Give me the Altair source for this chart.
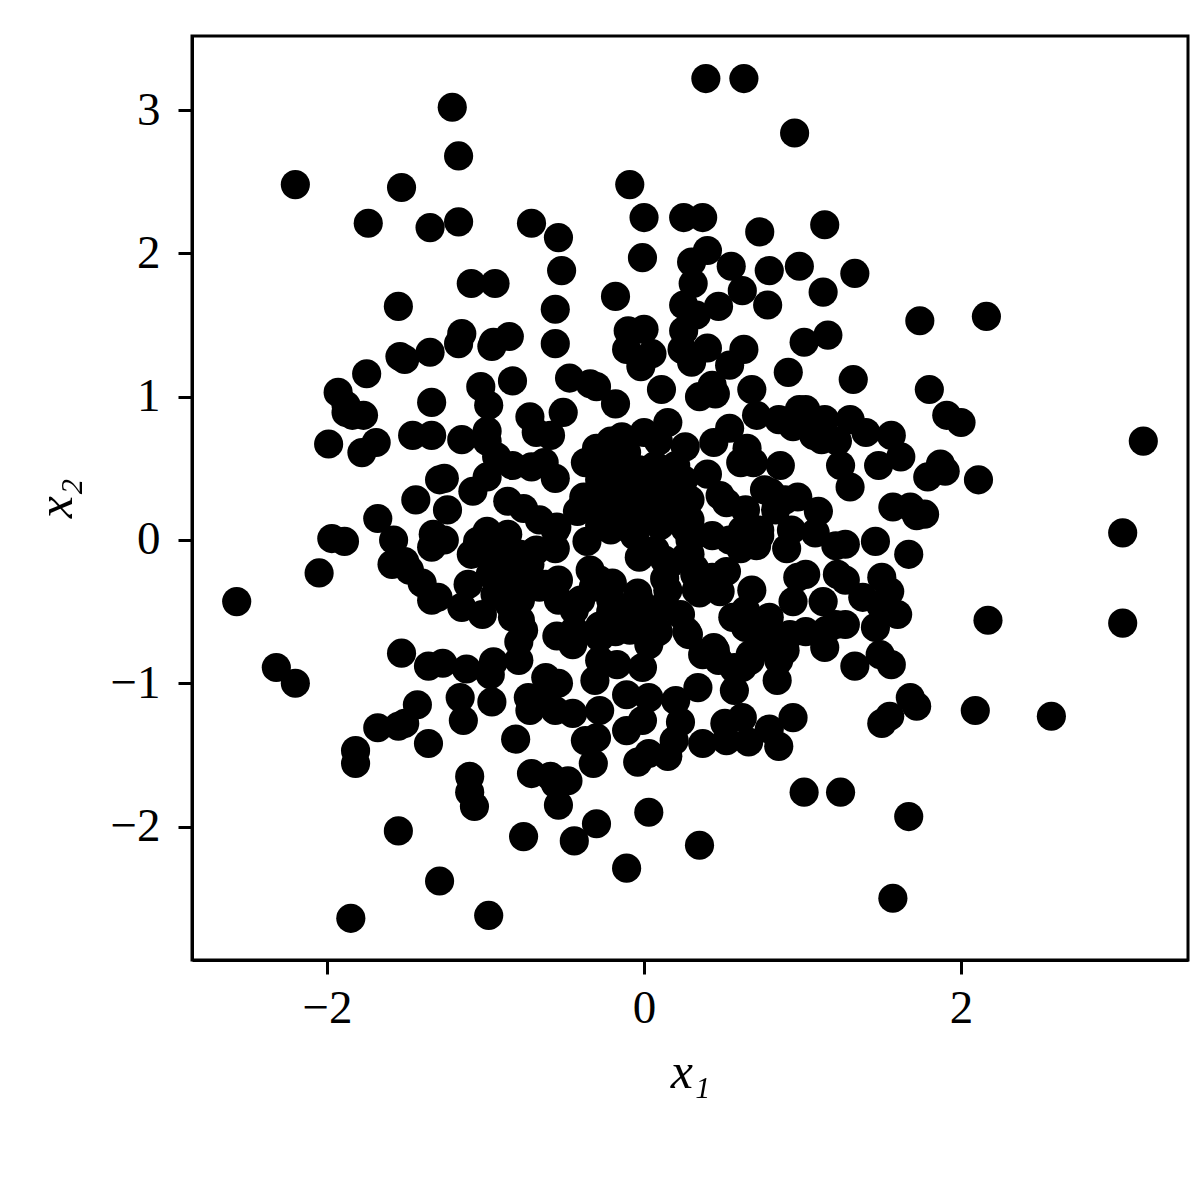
import altair as alt
import pandas as pd

x1 = [0.39,0.63,0.95,-1.21,-1.17,-2.20,-1.53,-1.74,-1.35,-1.17,-0.09,0,-0.71,-0.54,0.25,0.37,0.73,1.14,-0.01,0.30,0.40,0.55,0.79,0.98,1.33,-0.52,-1.09,-0.94,0.31,-0.18,0.62,1.13,-1.55,-0.56,0.25,0.47,0.78,0.33,1.74,2.16,
-0.10,0,0.25,-1.15,-1.17,-0.95,-0.85,-0.96,-0.56,1.01,1.16,-0.11,0.05,0.24,0.40,0.63,-1.35,-1.54,-1.51,-0.02,0.30,0.54,-1.75,-0.47,0.91,1.32,-1.03,-0.83,-0.30,-0.34,0.11,0.43,0.68,0.35,0.45,1.80,-1.93,-1.88,-1.34,-0.98,-0.18,-1.88,-1.84,-1.77,-0.51,-0.72,0.71,0.85,0.98,1.02,0.94,1.14,1.30,1.91,2.00,0.15,1.40,1.56,0.54,1.07,1.22,1.12,
-1.46,-1.34,-1.69,-1.99,-1.78,-1.15,-0.99,-0.99,-0.68,-0.59,0,-0.14,-0.21,-0.30,0.09,0.26,0.44,0.65,1.62,1.48,0.61,0.69,1.24,0.86,-0.93,-0.83,-0.63,-0.71,-0.56,-0.99,-1.29,-1.26,-1.08,-0.28,-0.12,-0.37,-0.28,1.87,1.90,1.79,2.11,3.15,0.40,1.30,0.76,
-0.03,0.07,0.13,-0.03,0.16,-0.15,0.04,0.25,-0.11,0.10,0.29,-0.28,-0.12,0.01,0.10,-0.21,-0.06,0.26,
-1.44,-0.86,-0.38,-0.39,0.48,0.52,0.97,0.89,0.80,1.57,1.68,-1.24,-0.76,0.29,-0.18,-0.09,0.23,1.10,1.72,1.77,-1.68,-0.66,
3.02,-1.97,-1.89,-1.58,-1.33,-1.26,-1.34,-0.99,-0.86,-1.05,-0.56,-0.56,-0.68,0.73,0.62,0.93,0.43,0.54,0.71,0.61,1.08,1.46,1.27,1.21,0.90,1.67,0.29,-0.03,0.07,0.13,0.26,-0.36,-0.55,-0.42,
-1.59,-1.51,-1.48,-1.09,-2.05,-0.94,-0.85,-0.34,-0.28,-1.40,-1.11,-0.62,0.13,0.52,0.43,0.33,0.68,0.97,1.02,1.22,1.27,1.50,1.55,1.38,
-2.57,-1.34,-1.30,-0.94,-0.78,-0.54,-0.40,-0.21,-0.03,0.13,0.94,1.13,1.49,1.60,-1.15,-1.02,-0.78,3.02,2.17,0.79,0.56,0.64,1.46,1.27,1.15,1.02,-0.28,-0.09,0.09,-0.55,-0.45,-0.79,0.28,0.03,1.14,-1.53,0.83,0.73,0.89,0.44,0.37,1.49,1.56,1.33,
-2.32,-1.36,-1.27,-1.12,-0.95,-0.79,-0.28,-0.17,-0.01,0.62,0.47,0.85,-0.97,-0.62,-0.54,-0.31,0.84,-2.20,0.34,0.57,-0.11,0.03,0.20,-0.73,-0.62,-1.16,-0.96,1.68,1.72,-1.43,2.09,2.57,-0.72,-0.56,-0.45,-0.28,0.94,0.62,0.23,-0.01,-0.11,0.51,1.55,1.50,-1.14,-1.51,-1.55,-1.68,0.79,-0.81,-0.30,-0.37,-1.36,0.52,0.66,0.37,0.19,0.85,-1.82,-1.82,0.03,-0.04,0.15,-0.32,-1.10,-0.71,-0.59,-0.48,-0.56,1.01,1.24,-1.10,-1.07,-0.54,0.03,1.67,-0.30,-1.55,-0.76,-0.44,0.35,-0.11,-1.29,1.57,-1.85,-0.98,
-0.85,-0.88,-0.83,-0.76,-0.54,-0.66,-0.20,-0.04,0.15,-0.32,0.35,-0.15,0.02,0.27,-0.69,-0.93,-1.07,-0.28,0.85,0.57,0.77,0.67,0.32,0.06,
-0.25,0.20,-0.21,0.07,0.23,-0.12,-0.28,
-0.91,-0.78,-0.97,-0.72,-0.75,-0.85,
-0.44,-0.21,-0.03,0.23,0.04,-0.18,-0.44,0.16,0.32,
0.64,0.83,0.73,
0.79,0.92,0.73,0.67,1.21,0.45,0.57,
0.29,0.48,0.64]
x2 = [3.22,3.22,2.84,3.02,2.68,2.48,2.46,2.21,2.18,2.22,2.48,2.25,2.21,2.11,2.25,2.25,2.15,2.20,1.97,1.94,2.02,1.91,1.88,1.91,1.86,1.88,1.79,1.79,1.79,1.70,1.74,1.73,1.63,1.61,1.64,1.63,1.64,1.57,1.53,1.56,
1.46,1.47,1.46,1.44,1.37,1.38,1.42,1.35,1.37,1.38,1.43,1.33,1.30,1.33,1.34,1.33,1.31,1.28,1.26,1.21,1.24,1.22,1.16,1.13,1.17,1.12,1.07,1.11,1.07,1.09,1.05,1.08,1.05,1.00,1.02,1.05,1.03,0.94,0.96,0.94,0.95,0.89,0.87,0.87,0.89,0.86,0.87,0.84,0.91,0.91,0.79,0.84,0.84,0.87,0.82,0.82,0.75,0.73,0.78,0.73,0.69,0.70,
0.73,0.73,0.68,0.67,0.61,0.70,0.76,0.69,0.75,0.73,0.75,0.72,0.69,0.64,0.69,0.65,0.68,0.64,0.58,0.52,0.54,0.54,0.52,0.52,0.58,0.52,0.54,0.51,0.43,0.44,0.42,0.43,0.34,0.56,0.56,0.54,0.42,0.53,0.48,0.44,0.42,0.69,0.46,0.37,0.35,
0.49,0.52,0.42,0.35,0.31,0.35,0.35,0.42,0.61,0.24,0.14,0.21,0.14,0.14,0.10,0.07,0.03,0.08,
0.28,0.27,0.30,0.24,0.31,0.26,0.30,0.28,0.33,0.23,0.23,0.21,0.22,0.28,0.24,0.24,0.17,0.20,0.17,0.18,0.15,0.14,
0.05,0.01,-0.01,0,0.04,0,-0.05,0.06,0.04,-0.01,0.07,-0.06,-0.07,0.07,0.07,0.07,0.03,0,-0.04,-0.06,0.05,-0.01,-0.03,-0.04,-0.06,-0.10,-0.10,-0.12,-0.07,-0.14,-0.12,-0.01,0.09,0.20,
-0.17,-0.15,-0.21,-0.10,-0.23,-0.21,-0.14,-0.21,-0.28,-0.30,-0.31,-0.31,-0.27,-0.22,-0.26,-0.35,-0.35,-0.26,-0.24,-0.24,-0.28,-0.26,-0.36,-0.40,
-0.43,-0.42,-0.40,-0.38,-0.42,-0.42,-0.42,-0.42,-0.42,-0.45,-0.43,-0.43,-0.45,-0.52,-0.47,-0.52,-0.56,-0.58,-0.56,-0.54,-0.54,-0.61,-0.61,-0.59,-0.63,-0.64,-0.60,-0.63,-0.64,-0.67,-0.73,-0.71,-0.66,-0.73,-0.75,-0.79,-0.77,-0.75,-0.77,-0.75,-0.80,-0.80,-0.87,-0.88,
-0.89,-0.88,-0.86,-0.90,-0.85,-0.84,-0.84,-0.87,-0.89,-0.89,-0.84,-0.84,-0.94,-0.96,-1.00,-0.98,-0.98,-1.00,-1.03,-1.05,-1.08,-1.10,-1.12,-1.10,-1.10,-1.10,-1.13,-1.10,-1.16,-1.15,-1.19,-1.23,-1.19,-1.19,-1.21,-1.19,-1.24,-1.24,-1.27,-1.26,-1.33,-1.28,-1.23,-1.28,-1.26,-1.28,-1.30,-1.31,-1.32,-1.39,-1.38,-1.40,-1.42,-1.40,-1.41,-1.42,-1.40,-1.44,-1.47,-1.56,-1.49,-1.55,-1.51,-1.56,-1.65,-1.63,-1.65,-1.68,-1.70,-1.76,-1.76,-1.76,-1.86,-1.85,-1.90,-1.93,-1.98,-2.03,-2.07,-2.10,-2.13,-2.29,-2.38,-2.50,-2.64,-2.62,
-0.26,-0.37,-0.54,-0.63,-0.28,-0.33,-0.30,-0.37,-0.35,-0.33,-0.37,-0.51,-0.58,-0.64,-0.08,-0.12,-0.09,-0.68,-0.70,-0.90,-0.68,-0.80,-0.20,-0.55,
0.49,0.52,0.28,0.21,0.28,0.45,0.10,
-0.03,-0.10,-0.24,-0.17,-0.35,-0.45,
-0.49,-0.50,-0.52,-0.52,-0.59,-0.64,-0.63,-0.17,-0.24,
0.21,0.21,0.03,
-0.70,-0.66,-0.59,-0.84,-0.59,-0.77,-0.89,
0,-0.36,-0.49]
print(len(x1), len(x2))
n = min(len(x1), len(x2))
df = pd.DataFrame({"x1": x1[:n], "x2": x2[:n]})

FONT = "Liberation Serif"
xaxis = alt.Axis(values=[-2, 0, 2], format="d", grid=False, tickSize=14, tickWidth=3, tickColor="black",
                 domainWidth=3, domainColor="black", labelFont=FONT, labelFontSize=47, labelColor="black",
                 labelPadding=11, title="x₁", titleFont=FONT, titleFontSize=50, titleFontStyle="italic",
                 titleFontWeight="normal", titleColor="black", titlePadding=16)
yaxis = alt.Axis(values=[-2, -1, 0, 1, 2, 3], format="d", grid=False, tickSize=14, tickWidth=3, tickColor="black",
                 domainWidth=3, domainColor="black", labelFont=FONT, labelFontSize=47, labelColor="black",
                 labelPadding=18, labelBaseline="middle", title="x₂", titleFont=FONT, titleFontSize=50, titleFontStyle="italic",
                 titleFontWeight="normal", titleColor="black", titlePadding=28)

chart = alt.Chart(df).mark_circle(size=850, opacity=1, color="black").encode(
    x=alt.X("x1:Q", scale=alt.Scale(domain=[-2.852, 3.432], nice=False, zero=False), axis=xaxis),
    y=alt.Y("x2:Q", scale=alt.Scale(domain=[-2.931, 3.517], nice=False, zero=False), axis=yaxis),
).properties(
    width=996, height=924, background="white",
    autosize=alt.AutoSizeParams(type="none"),
    padding={"left": 184, "top": 28, "right": 4, "bottom": 200},
).configure_view(stroke="black", strokeWidth=3)

chart.save("out.html", embed_options={"renderer": "svg", "actions": False})
